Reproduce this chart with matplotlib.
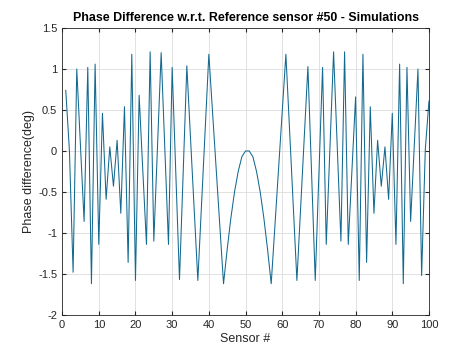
import numpy as np
import matplotlib
matplotlib.use('Agg')
import matplotlib.pyplot as plt
from matplotlib.ticker import FuncFormatter

plt.rcParams['font.family'] = ['Liberation Sans', 'DejaVu Sans']
plt.rcParams['axes.unicode_minus'] = False

# phase difference, one value per sensor 1..100
sensors = np.arange(1, 101)
phase = [
    0.74, 0.00, -1.48, 1.00, 0.07, -0.86, 1.02, -1.62, 1.06, -1.14,   # 1-10
    0.46, -0.59, 0.05, -0.43, 0.13, -0.76, 0.54, -1.36, 1.18, -1.58,  # 11-20
    0.68, -0.24, -1.14, 1.21, -1.10, 0.05, 1.20, 0.03, -1.14, 1.02,   # 21-30
    -0.28, -1.57, -0.27, 1.04, 0.16, -0.71, -1.58, -0.66, 0.26, 1.18, # 31-40
    0.48, -0.22, -0.92, -1.62, -1.20, -0.82, -0.50, -0.25, -0.07, 0.00, # 41-50
    0.00, -0.07, -0.25, -0.50, -0.82, -1.20, -1.62, -0.92, -0.22, 0.48, # 51-60
    1.18, 0.26, -0.66, -1.58, -0.71, 0.16, 1.03, -0.27, -1.58, -0.28, # 61-70
    1.02, -1.14, 0.03, 1.21, 0.05, -1.10, 1.21, -1.14, -0.24, 0.66,   # 71-80
    -1.58, 1.18, -1.36, 0.54, -0.76, 0.13, -0.43, 0.05, -0.59, 0.46,  # 81-90
    -1.14, 1.06, -1.62, 1.02, -0.86, 0.07, 1.00, -1.52, 0.02, 0.61,   # 91-100
]

fig = plt.figure(figsize=(4.74, 3.55), dpi=100)
ax = fig.add_axes([0.131, 0.113, 0.774, 0.808])
ax.plot(sensors, phase, color='#13698f', linewidth=0.75)

ax.set_xlim(0, 100)
ax.set_ylim(-2, 1.5)
ax.set_xticks(np.arange(0, 101, 10))
ax.set_yticks(np.arange(-2, 1.51, 0.5))
ax.yaxis.set_major_formatter(FuncFormatter(lambda v, p: '%g' % v))
ax.grid(True, color='#dcdcdc', linewidth=0.6)
ax.tick_params(direction='in', length=3, labelsize=8, colors='#262626',
               top=True, right=True)
for s in ax.spines.values():
    s.set_color('#262626')
    s.set_linewidth(0.6)

ax.set_title('Phase Difference w.r.t. Reference sensor #50 - Simulations',
             fontsize=8.9, fontweight='bold', pad=5)
ax.set_xlabel('Sensor #', fontsize=9, color='#262626', labelpad=2)
ax.set_ylabel('Phase difference(deg)', fontsize=9, color='#262626', labelpad=2)

fig.savefig('out.png', dpi=100)
